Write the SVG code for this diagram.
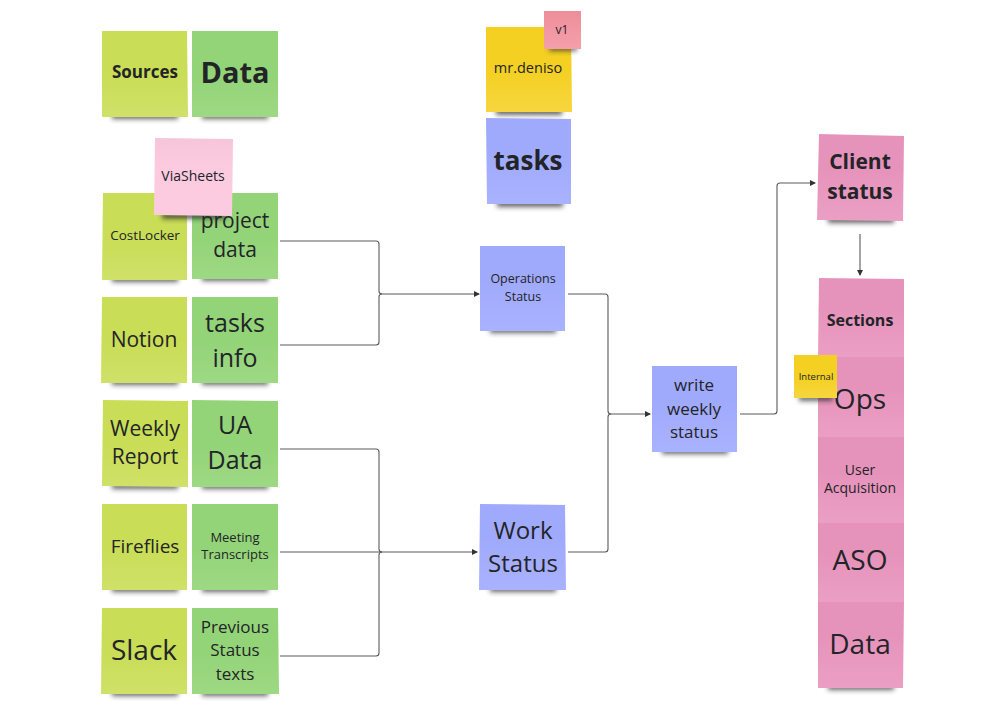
<svg xmlns="http://www.w3.org/2000/svg" width="1007" height="721" viewBox="0 0 1007 721">
<style>
text{font-family:"Open Sans","Noto Sans","Liberation Sans",sans-serif;fill:#232428;text-anchor:middle}
.b{font-weight:700}
.w{fill:none;stroke:#5a5a5a;stroke-width:1.1}
.s{fill:#2c2c2c;opacity:.72;filter:url(#blur)}
.lime{fill:url(#lime)}.green{fill:url(#green)}.blue{fill:url(#blue)}.rose{fill:url(#rose)}.yel{fill:url(#yel)}.pink{fill:url(#pink)}.red{fill:url(#red)}
</style>
<defs>
<filter id="blur" x="-20%" y="-120%" width="140%" height="340%"><feGaussianBlur stdDeviation="2.6"/></filter>
<linearGradient id="lime" x1="0" y1="0" x2="0" y2="1"><stop offset=".5" stop-color="#c9dd56"/><stop offset="1" stop-color="#cfe169"/></linearGradient>
<linearGradient id="green" x1="0" y1="0" x2="0" y2="1"><stop offset=".5" stop-color="#93d478"/><stop offset="1" stop-color="#9ed883"/></linearGradient>
<linearGradient id="blue" x1="0" y1="0" x2="0" y2="1"><stop offset=".4" stop-color="#a0aafc"/><stop offset="1" stop-color="#a9b2fe"/></linearGradient>
<linearGradient id="rose" x1="0" y1="0" x2="0" y2="1"><stop offset=".4" stop-color="#e693bb"/><stop offset="1" stop-color="#eb9fc4"/></linearGradient>
<linearGradient id="yel" x1="0" y1="0" x2="0" y2="1"><stop offset=".5" stop-color="#f4d022"/><stop offset="1" stop-color="#f6d63f"/></linearGradient>
<linearGradient id="pink" x1="0" y1="0" x2="0" y2="1"><stop offset="0" stop-color="#f6c5da"/><stop offset=".4" stop-color="#fccbe0"/></linearGradient>
<linearGradient id="red" x1="0" y1="0" x2="0" y2="1"><stop offset="0" stop-color="#ee8e9b"/><stop offset="1" stop-color="#f4a0aa"/></linearGradient>
<marker id="arr" markerWidth="6" markerHeight="6" refX="5" refY="3" orient="auto" markerUnits="userSpaceOnUse"><path d="M0 0L6 3L0 6Z" fill="#333"/></marker>
</defs>
<rect width="1007" height="721" fill="#fff"/>
<g id="connectors" class="connectors">
<path class="w" d="M280 241H376Q379 241 379 244V291Q379 294 382 294H479" marker-end="url(#arr)"/>
<path class="w" d="M280 345H376Q379 345 379 342V297Q379 294 382 294"/>
<path class="w" d="M280 449H376Q379 449 379 452V549Q379 552 382 552"/>
<path class="w" d="M280 552H477" marker-end="url(#arr)"/>
<path class="w" d="M280 656H376Q379 656 379 653V555Q379 552 382 552"/>
<path class="w" d="M568 294H605Q608 294 608 297V411Q608 414 611 414H650" marker-end="url(#arr)"/>
<path class="w" d="M568 552H605Q608 552 608 549V417Q608 414 611 414"/>
<path class="w" d="M740 414H774Q777 414 777 411V186Q777 183 780 183H815" marker-end="url(#arr)"/>
<path class="w" d="M860 234V275" marker-end="url(#arr)"/>
</g>
<g id="n-sources"><rect class="s" x="112" y="113" width="66" height="6"/><polygon class="lime" points="102,31 187,31 188,117 102,117"/><text class="b" x="145" y="78" font-size="17">Sources</text></g>
<g id="n-data"><rect class="s" x="202" y="113" width="66" height="6"/><polygon class="green" points="192,31 278,31 278,117 192,117"/><text class="b" x="235" y="83" font-size="29">Data</text></g>
<g id="n-costlocker"><rect class="s" x="112" y="276" width="66" height="6"/><polygon class="lime" points="103,193 187,193 187,280 102,280"/><text x="145" y="240" font-size="13.5">CostLocker</text></g>
<g id="n-project"><rect class="s" x="202" y="275" width="66" height="6"/><polygon class="green" points="192,193 278,193 278,279 192,279"/><text x="235" y="228" font-size="21">project</text><text x="235" y="257" font-size="21">data</text></g>
<g id="n-viasheets"><rect class="s" x="162" y="212" width="64" height="7"/><polygon class="pink" points="155,138 233,139 232,216 154,215"/><text x="193" y="181" font-size="14">ViaSheets</text></g>
<g id="n-notion"><rect class="s" x="112" y="379" width="66" height="6"/><polygon class="lime" points="102,297 187,297 187,383 101,383"/><text x="144" y="347" font-size="21">Notion</text></g>
<g id="n-tasksinfo"><rect class="s" x="202" y="379" width="66" height="6"/><polygon class="green" points="192,297 278,297 278,383 192,383"/><text x="235" y="332" font-size="25">tasks</text><text x="235" y="367" font-size="25">info</text></g>
<g id="n-weekly"><rect class="s" x="112" y="483" width="66" height="6"/><polygon class="lime" points="103,400 188,401 188,487 102,486"/><text x="145" y="436" font-size="21">Weekly</text><text x="145" y="464" font-size="21">Report</text></g>
<g id="n-ua"><rect class="s" x="202" y="483" width="66" height="6"/><polygon class="green" points="192,400 278,401 278,487 192,487"/><text x="235" y="434" font-size="25">UA</text><text x="235" y="469" font-size="25">Data</text></g>
<g id="n-fireflies"><rect class="s" x="112" y="586" width="66" height="6"/><polygon class="lime" points="102,504 187,504 187,590 102,590"/><text x="145" y="553" font-size="19">Fireflies</text></g>
<g id="n-meeting"><rect class="s" x="202" y="586" width="66" height="6"/><polygon class="green" points="192,504 278,504 278,590 192,590"/><text x="235" y="542" font-size="13">Meeting</text><text x="235" y="559" font-size="13">Transcripts</text></g>
<g id="n-slack"><rect class="s" x="112" y="690" width="66" height="6"/><polygon class="lime" points="102,608 187,608 187,694 101,694"/><text x="144" y="660" font-size="28">Slack</text></g>
<g id="n-previous"><rect class="s" x="202" y="690" width="66" height="6"/><polygon class="green" points="192,608 278,608 279,694 192,694"/><text x="235" y="633" font-size="17">Previous</text><text x="235" y="656" font-size="17">Status</text><text x="235" y="680" font-size="17">texts</text></g>
<g id="n-deniso"><rect class="s" x="496" y="108" width="66" height="7"/><polygon class="yel" points="486,27 571,27 572,112 486,112"/><text x="528" y="73" font-size="14.5">mr.deniso</text></g>
<g id="n-v1"><rect class="s" x="549" y="46" width="28" height="5"/><polygon class="red" points="544,11 581,11 581,49 544,49"/><text x="562" y="34" font-size="12">v1</text></g>
<g id="n-tasks"><rect class="s" x="497" y="200" width="66" height="7"/><polygon class="blue" points="486,118 571,119 571,204 487,204"/><text class="b" x="528" y="170" font-size="26">tasks</text></g>
<g id="n-ops"><rect class="s" x="490" y="327" width="66" height="6"/><polygon class="blue" points="480,246 565,246 565,331 480,331"/><text x="523" y="283" font-size="12.5">Operations</text><text x="523" y="301" font-size="12.5">Status</text></g>
<g id="n-work"><rect class="s" x="490" y="586" width="66" height="6"/><polygon class="blue" points="480,504 565,505 566,590 479,590"/><text x="523" y="539" font-size="24">Work</text><text x="523" y="572" font-size="24">Status</text></g>
<g id="n-write"><rect class="s" x="662" y="448" width="66" height="6"/><polygon class="blue" points="652,366 737,366 737,452 652,452"/><text x="694" y="391" font-size="17">write</text><text x="694" y="415" font-size="17">weekly</text><text x="694" y="438" font-size="17">status</text></g>
<g id="n-client"><rect class="s" x="828" y="216" width="66" height="7"/><polygon class="rose" points="819,134 904,136 903,221 817,220"/><text class="b" x="860" y="169" font-size="21">Client</text><text class="b" x="860" y="199" font-size="21">status</text></g>
<g id="n-sections"><polygon class="rose" points="819,278 904,279 904,358 818,358"/><text class="b" x="860" y="326" font-size="16">Sections</text></g>
<g id="n-opssec"><polygon class="rose" points="818,357 904,357 904,437 818,437"/><text x="860" y="409" font-size="28">Ops</text></g>
<g id="n-ua2"><polygon class="rose" points="818,437 904,437 904,524 818,524"/><text x="860" y="475" font-size="14">User</text><text x="860" y="493" font-size="14">Acquisition</text></g>
<g id="n-aso"><polygon class="rose" points="818,523 904,523 904,603 818,603"/><text x="860" y="570" font-size="28">ASO</text></g>
<g id="n-data2"><rect class="s" x="828" y="684" width="66" height="6"/><polygon class="rose" points="818,602 904,602 903,688 818,688"/><text x="860" y="654" font-size="28">Data</text></g>
<g id="n-internal"><rect class="s" x="799" y="395" width="34" height="6"/><polygon class="yel" points="794,355 837,355 837,398 794,398"/><text x="816" y="380" font-size="9.5">Internal</text></g>
</svg>
